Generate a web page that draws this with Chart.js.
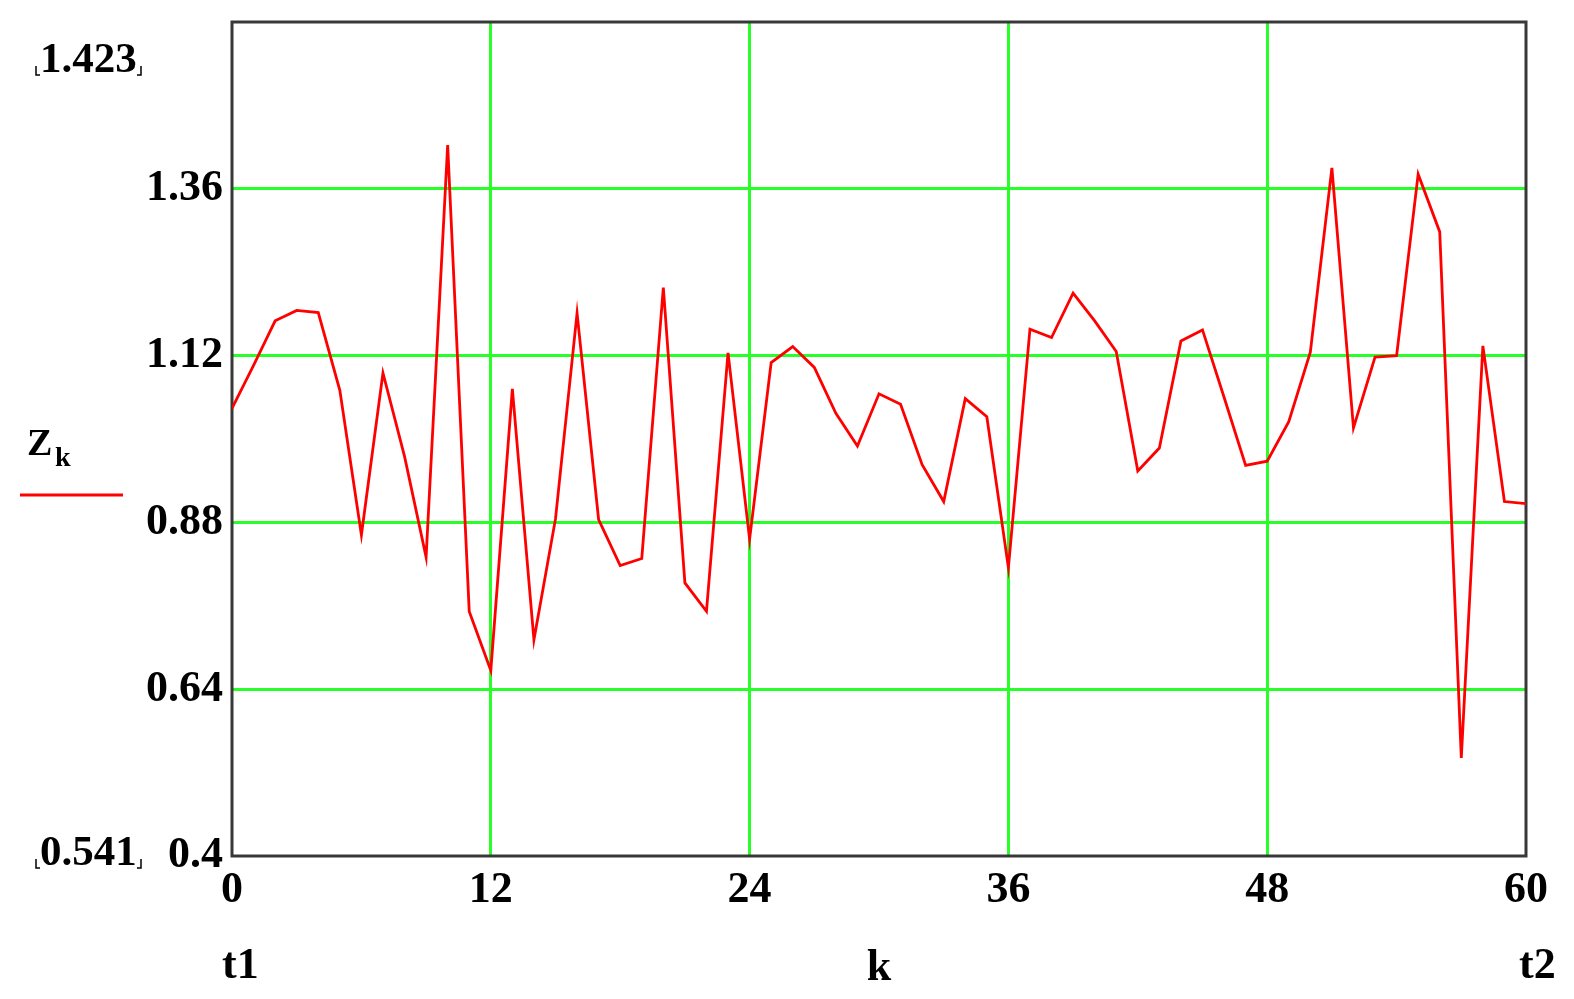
<!DOCTYPE html>
<html lang="en">
<head>
    <meta charset="UTF-8">
    <title>Z(k)</title>
    <script src="https://cdn.jsdelivr.net/npm/chart.js"></script>
    <style>
        body { margin: 0; background: #fff; }
    </style>
</head>
<body>
    <canvas id="zChart" width="1574" height="999"></canvas>

    <script>
        // index k and the plotted values Z_k
        const kValues = [0, 1, 2, 3, 4, 5, 6, 7, 8, 9, 10, 11, 12, 13, 14, 15, 16, 17, 18, 19, 20,
            21, 22, 23, 24, 25, 26, 27, 28, 29, 30, 31, 32, 33, 34, 35, 36, 37, 38, 39, 40,
            41, 42, 43, 44, 45, 46, 47, 48, 49, 50, 51, 52, 53, 54, 55, 56, 57, 58, 59, 60];
        const zValues = [1.044, 1.106, 1.170, 1.185, 1.182, 1.070, 0.862, 1.095, 0.975, 0.830, 1.423,
            0.752, 0.667, 1.072, 0.711, 0.885, 1.181, 0.884, 0.818, 0.828, 1.218,
            0.793, 0.752, 1.124, 0.856, 1.110, 1.133, 1.103, 1.037, 0.990, 1.065,
            1.050, 0.963, 0.910, 1.058, 1.032, 0.815, 1.158, 1.146, 1.210, 1.170,
            1.126, 0.954, 0.987, 1.141, 1.157, 1.060, 0.962, 0.968, 1.025, 1.125,
            1.390, 1.016, 1.118, 1.120, 1.381, 1.298, 0.541, 1.134, 0.910, 0.907];

        const xTicks = [0, 12, 24, 36, 48, 60];
        const yTicks = [0.4, 0.64, 0.88, 1.12, 1.36];
        const yMin = 0.4, yMax = 1.6;
        const zMaxLabel = '1.423';
        const zMinLabel = '0.541';

        const serif = 'Liberation Serif';
        const green = 'rgb(40, 255, 40)';

        // frame round the plot area
        const framePlugin = {
            id: 'frame',
            beforeDatasetsDraw(chart) {
                const a = chart.chartArea;
                const ctx = chart.ctx;
                ctx.save();
                ctx.strokeStyle = '#383838';
                ctx.lineWidth = 3;
                ctx.strokeRect(a.left, a.top, a.right - a.left, a.bottom - a.top);
                ctx.restore();
            }
        };

        // mathcad style extras: range limits, trace label, t1 / t2
        const extrasPlugin = {
            id: 'extras',
            afterDraw(chart) {
                const ctx = chart.ctx;
                ctx.save();
                ctx.fillStyle = '#000';
                ctx.textAlign = 'left';
                ctx.textBaseline = 'alphabetic';
                ctx.font = 'bold 43px "' + serif + '"';
                ctx.fillText(zMaxLabel, 40, 72);
                ctx.fillText(zMinLabel, 40, 865);

                // little corner marks round the limits
                ctx.strokeStyle = '#000';
                ctx.lineWidth = 1.5;
                [[72, 36, 141], [865, 36, 141]].forEach(([y, l, r]) => {
                    ctx.beginPath();
                    ctx.moveTo(l, y - 6); ctx.lineTo(l, y + 3); ctx.lineTo(l + 4, y + 3);
                    ctx.moveTo(r, y - 6); ctx.lineTo(r, y + 3); ctx.lineTo(r - 4, y + 3);
                    ctx.stroke();
                });

                ctx.font = 'bold 38px "' + serif + '"';
                ctx.fillText('Z', 27, 455);
                ctx.font = 'bold 28px "' + serif + '"';
                ctx.fillText('k', 55, 466);

                ctx.strokeStyle = 'rgb(255, 0, 0)';
                ctx.lineWidth = 3;
                ctx.beginPath();
                ctx.moveTo(20, 495);
                ctx.lineTo(123, 495);
                ctx.stroke();

                ctx.font = 'bold 44px "' + serif + '"';
                ctx.fillText('t1', 222, 978);
                ctx.fillText('t2', 1519, 978);
                ctx.restore();
            }
        };

        const ctx = document.getElementById('zChart').getContext('2d');
        new Chart(ctx, {
            type: 'line',
            data: {
                datasets: [{
                    label: 'Zk',
                    data: kValues.map((k, i) => ({ x: k, y: zValues[i] })),
                    borderColor: 'rgb(255, 0, 0)',
                    borderWidth: 2.8,
                    pointRadius: 0,
                    tension: 0,
                    fill: false
                }]
            },
            options: {
                responsive: false,
                animation: false,
                layout: {
                    padding: { top: 22, right: 48, left: 0, bottom: 0 }
                },
                plugins: {
                    legend: { display: false },
                    tooltip: { enabled: false }
                },
                scales: {
                    x: {
                        type: 'linear',
                        min: 0,
                        max: 60,
                        afterFit(axis) {
                            axis.height = 143;
                            axis.paddingLeft = 0;
                            axis.paddingRight = 0;
                        },
                        afterBuildTicks(axis) { axis.ticks = xTicks.map(v => ({ value: v })); },
                        border: { display: false },
                        grid: {
                            drawTicks: false,
                            lineWidth: 3,
                            color: c => (c.tick && (c.tick.value === 0 || c.tick.value === 60)) ? 'rgba(0,0,0,0)' : green
                        },
                        ticks: {
                            padding: 8,
                            color: '#000',
                            maxRotation: 0,
                            font: { family: serif, size: 44, weight: 'bold' }
                        },
                        title: {
                            display: true,
                            text: 'k',
                            color: '#000',
                            padding: { top: 0, bottom: 4 },
                            font: { family: serif, size: 44, weight: 'bold' }
                        }
                    },
                    y: {
                        min: yMin,
                        max: yMax,
                        afterFit(axis) {
                            axis.width = 232;
                            axis.paddingTop = 0;
                            axis.paddingBottom = 0;
                        },
                        afterBuildTicks(axis) { axis.ticks = yTicks.map(v => ({ value: v })); },
                        border: { display: false },
                        grid: {
                            drawTicks: false,
                            lineWidth: 3,
                            color: c => (c.tick && c.tick.value === 0.4) ? 'rgba(0,0,0,0)' : green
                        },
                        ticks: {
                            padding: 9,
                            color: '#000',
                            font: { family: serif, size: 44, weight: 'bold' },
                            callback: v => String(v)
                        }
                    }
                }
            },
            plugins: [framePlugin, extrasPlugin]
        });
    </script>
</body>
</html>
